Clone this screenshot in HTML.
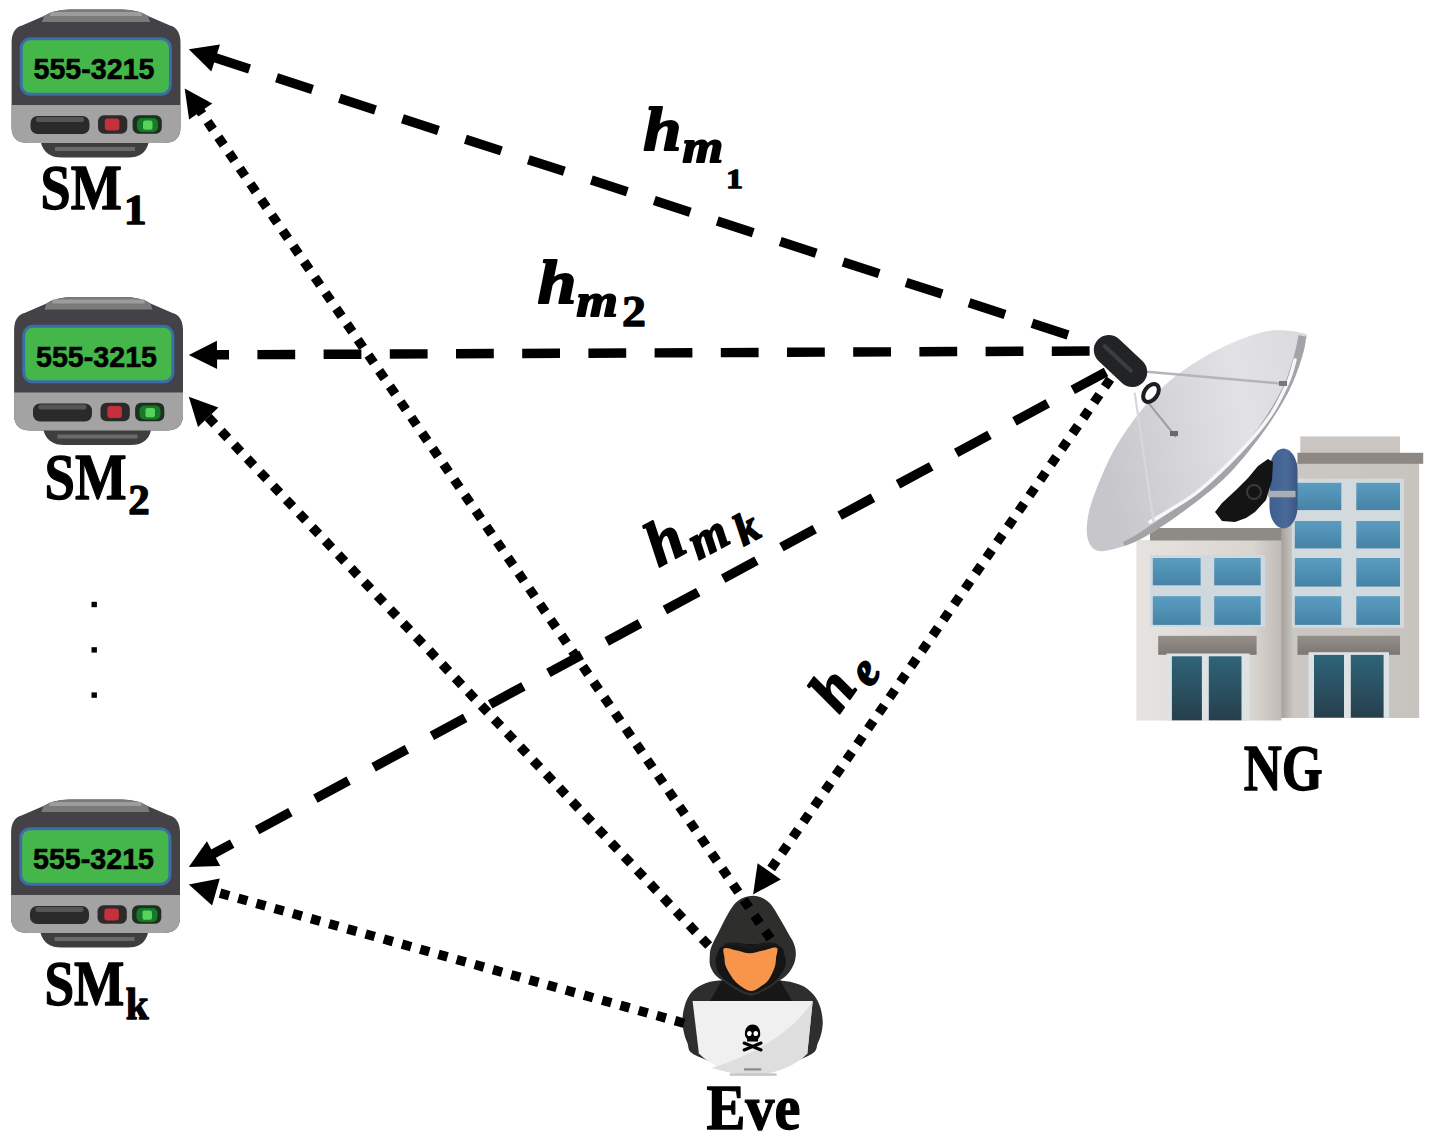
<!DOCTYPE html>
<html><head><meta charset="utf-8"><style>
html,body{margin:0;padding:0;background:#fff;}
svg{display:block;}
</style></head><body>
<svg width="1433" height="1135" viewBox="0 0 1433 1135" font-family="Liberation Serif, serif">
<defs>
<g id="pager">
  <path d="M11.6,42 Q12,28 22,25.5 L44,16 Q54,9.5 70,9.5 L122,9.5 Q138,9.5 148,16 L170,25.5 Q180,28 180.5,42 L180.5,128 Q180,143 164,143 L28,143 Q12,143 11.6,128 Z" fill="#444246"/>
  <path d="M44,16 Q54,9.5 70,9.5 L122,9.5 Q138,9.5 148,16 L150,22 L42,22 Z" fill="#7a7a7a"/>
  <rect x="50" y="12" width="92" height="4" fill="#9c9c9c"/>
  <path d="M11.6,105 L180.5,105 L180.5,128 Q180,143 164,143 L28,143 Q12,143 11.6,128 Z" fill="#a3a3a3"/>
  <path d="M41,143 L148.5,143 Q145,157.6 128,157.6 L62,157.6 Q45,157.6 41,143 Z" fill="#3e3e3e"/>
  <rect x="55" y="147" width="80" height="4" fill="#6a6a6a"/>
  <rect x="21.2" y="38.8" width="149.2" height="55.5" rx="9" fill="#45b74a" stroke="#3b6ea8" stroke-width="3"/>
  <text x="94" y="79" font-family="Liberation Sans, sans-serif" font-weight="bold" font-size="30" text-anchor="middle" textLength="121" lengthAdjust="spacingAndGlyphs" fill="#000" stroke="#000" stroke-width="0.6">555-3215</text>
  <rect x="30.5" y="116" width="59" height="18" rx="7" fill="#2a2a2a"/>
  <rect x="36" y="117" width="48" height="5" rx="2" fill="#555"/>
  <rect x="98" y="115.2" width="29.3" height="18.6" rx="6" fill="#2e2a2a"/>
  <rect x="104.8" y="118.5" width="14.6" height="12" rx="3" fill="#c4303c"/>
  <rect x="132.6" y="115.2" width="29.2" height="18.6" rx="6" fill="#1d2f1f"/>
  <rect x="137" y="118" width="21" height="14" rx="5" fill="#177a2a"/>
  <rect x="143" y="120.5" width="9.5" height="9.3" rx="2" fill="#56d45a"/>
</g>

</defs>
<rect width="1433" height="1135" fill="#fff"/>
<use href="#pager" x="0" y="0"/>
<use href="#pager" x="2.5" y="287.5"/>
<use href="#pager" x="-0.5" y="790"/>
<g id="eve">
  <path d="M724.2,980.3 C731.7,980.0 742.0,981.0 751.0,981.0 C760.0,981.0 770.2,979.7 778.4,980.3 C786.6,980.9 794.3,982.5 800.0,984.8 C805.7,987.0 809.4,990.2 812.7,993.8 C816.0,997.4 818.3,1001.4 820.0,1006.5 C821.7,1011.6 823.0,1018.5 822.7,1024.5 C822.4,1030.5 820.6,1037.3 818.1,1042.6 C815.6,1047.8 818.9,1051.1 808.0,1056.0 C797.1,1060.9 771.5,1072.0 753.0,1072.0 C734.5,1072.0 708.0,1060.9 697.0,1056.0 C686.0,1051.1 689.6,1047.8 687.2,1042.6 C684.8,1037.3 683.1,1030.5 682.6,1024.5 C682.1,1018.5 683.0,1011.9 684.5,1006.5 C686.0,1001.1 688.1,995.9 691.7,992.0 C695.3,988.1 700.7,985.0 706.1,983.0 C711.5,981.0 716.7,980.6 724.2,980.3 Z" fill="#2e2e2c"/>
  <path d="M722,980 C732,988 742,994 751,996 C760,994 770,988 780,980 L792,1001 L710,1001 Z" fill="#171717"/>
  <path d="M753.1,895.8 C756.6,895.8 760.0,896.7 763.0,898.2 C766.0,899.7 768.6,901.6 771.4,905.0 C774.2,908.4 777.0,913.9 779.8,918.6 C782.6,923.3 785.9,929.1 788.2,933.3 C790.6,937.5 792.6,940.1 793.9,943.7 C795.2,947.3 796.1,951.0 795.8,955.0 C795.5,959.0 794.6,963.8 792.0,968.0 C789.4,972.2 786.8,976.5 780.0,980.0 C773.2,983.5 760.7,989.0 751.0,989.0 C741.3,989.0 728.7,983.5 722.0,980.0 C715.3,976.5 713.0,972.2 711.0,968.0 C709.0,963.8 709.7,958.7 709.8,955.0 C709.9,951.3 710.4,949.4 711.8,945.8 C713.2,942.2 715.7,937.8 718.0,933.3 C720.3,928.8 722.8,923.3 725.4,918.6 C728.0,913.9 730.9,908.4 733.7,905.0 C736.5,901.6 738.9,899.7 742.1,898.2 C745.3,896.7 749.6,895.8 753.1,895.8 Z" fill="#2e2e2c"/>
  <path d="M724.0,946.0 C729.5,944.6 741.8,944.0 751.0,944.0 C760.2,944.0 773.4,944.2 779.0,946.0 C784.6,947.8 783.4,951.8 784.5,955.0 C785.6,958.2 786.6,961.2 785.6,965.0 C784.6,968.8 781.4,974.0 778.4,977.6 C775.4,981.2 772.1,984.0 767.6,986.6 C763.1,989.2 756.7,993.0 751.3,993.0 C745.9,993.0 740.1,989.5 735.0,986.6 C729.9,983.7 723.9,979.7 720.6,975.8 C717.4,971.9 716.0,966.9 715.5,963.0 C715.0,959.1 716.5,955.1 717.9,952.3 C719.3,949.5 718.5,947.4 724.0,946.0 Z" fill="#151515"/>
  <path d="M724.2,948.3 C726.3,947.0 732.8,949.7 737.0,950.5 C741.2,951.3 745.2,953.2 749.5,953.2 C753.8,953.2 758.5,951.4 763.0,950.5 C767.5,949.6 774.4,946.5 776.6,947.7 C778.8,949.0 776.3,954.8 776.0,958.0 C775.7,961.2 776.0,963.0 774.8,966.7 C773.5,970.4 771.0,976.6 768.5,980.0 C766.0,983.4 762.9,985.1 760.0,987.0 C757.1,988.9 754.3,991.1 751.3,991.1 C748.3,991.1 744.9,988.9 742.0,987.0 C739.1,985.1 736.7,983.4 734.0,980.0 C731.3,976.6 727.6,970.4 726.0,966.7 C724.4,963.0 724.8,961.1 724.5,958.0 C724.2,954.9 722.1,949.5 724.2,948.3 Z" fill="#f7964a"/>
  <path d="M724.2,946.5 C735,944 744,947 751,950 C758,947 767,944 778,946.5 L778,944 C767,941 758,943 751,946 C744,943 735,941 724.2,944 Z" fill="#1a1a1a"/>
  <path d="M692.6,1001 L812.7,1001 L807.3,1053.4 C795,1066 775,1074 753,1075 C731,1074 711,1066 698.9,1053.4 Z" fill="#f0f0f0"/>
  <path d="M812.7,1001 L807.3,1053.4 C795,1066 775,1074 753,1075 C738,1074.5 724,1071.5 711.6,1067.9 C755,1055 795,1030 812.7,1001 Z" fill="#dedede"/>
  <rect x="744" y="1068.3" width="17.2" height="2.2" fill="#8a8a8a"/>
  <rect x="729.6" y="1073.3" width="47" height="2.5" fill="#c6c6c6"/>
  <g transform="translate(752.6,1036)">
    <path d="M-7.5,0 C-8.5,-7 -5,-11.5 0,-11.5 C5,-11.5 8.5,-7 7.5,0 L5.5,3 L5.5,5.5 L-5.5,5.5 L-5.5,3 Z" fill="#000"/>
    <ellipse cx="-3.2" cy="-2.5" rx="2.3" ry="2.6" fill="#fff"/>
    <ellipse cx="3.2" cy="-2.5" rx="2.3" ry="2.6" fill="#fff"/>
    <path d="M-8.5,7 L8.5,14 M8.5,7 L-8.5,14" stroke="#000" stroke-width="3" stroke-linecap="round"/>
  </g>
</g>

<g stroke="#000" stroke-width="9.45" fill="#000">
<line x1="1068.0" y1="335.0" x2="212.8" y2="57.1" stroke-dasharray="37.8 28.4"/>
<polygon stroke="none" points="188.8,49.3 220.0,44.6 211.3,71.4"/>
<line x1="1089.6" y1="351.0" x2="214.0" y2="354.8" stroke-dasharray="37.8 28.4"/>
<polygon stroke="none" points="188.8,354.9 216.9,340.7 217.1,368.9"/>
<line x1="1106.0" y1="372.0" x2="211.0" y2="855.0" stroke-dasharray="37.8 28.4"/>
<polygon stroke="none" points="188.8,867.0 206.9,841.2 220.3,866.0"/>
<line x1="1110.2" y1="379.1" x2="767.5" y2="873.8" stroke-dasharray="9.45 9.45"/>
<polygon stroke="none" points="753.1,894.5 757.6,863.3 780.8,879.4"/>
<line x1="770.5" y1="938.8" x2="199.0" y2="109.2" stroke-dasharray="9.45 9.45"/>
<polygon stroke="none" points="184.7,88.4 212.3,103.6 189.1,119.6"/>
<line x1="708.7" y1="945.6" x2="206.1" y2="415.1" stroke-dasharray="9.45 9.45"/>
<polygon stroke="none" points="188.8,396.8 218.4,407.6 198.0,427.0"/>
<line x1="684.1" y1="1023.2" x2="213.1" y2="891.2" stroke-dasharray="9.45 9.45"/>
<polygon stroke="none" points="188.8,884.4 219.8,878.4 212.1,905.6"/>
</g>
<g id="ng">
  <defs>
    <linearGradient id="bldL" x1="0" x2="1" y1="0" y2="0">
      <stop offset="0" stop-color="#e6e3e0"/><stop offset="0.8" stop-color="#d9d5d1"/><stop offset="1" stop-color="#bfbab6"/>
    </linearGradient>
    <linearGradient id="bldR" x1="0" x2="1" y1="0" y2="0">
      <stop offset="0" stop-color="#a5a09c"/><stop offset="0.09" stop-color="#cbc7c3"/><stop offset="1" stop-color="#c7c3bf"/>
    </linearGradient>
    <linearGradient id="win" x1="0" x2="0" y1="0" y2="1">
      <stop offset="0" stop-color="#5a9dc1"/><stop offset="1" stop-color="#4683a6"/>
    </linearGradient>
    <linearGradient id="door" x1="0" x2="0" y1="0" y2="1">
      <stop offset="0" stop-color="#2f6479"/><stop offset="1" stop-color="#263f4c"/>
    </linearGradient>
    <linearGradient id="awn" x1="0" x2="0" y1="0" y2="1">
      <stop offset="0" stop-color="#958f8b"/><stop offset="1" stop-color="#7d7773"/>
    </linearGradient>
    <linearGradient id="mountG" x1="0" x2="1" y1="0" y2="0">
      <stop offset="0" stop-color="#3e5f90"/><stop offset="0.6" stop-color="#4a6a98"/><stop offset="1" stop-color="#3a5480"/>
    </linearGradient>
    <linearGradient id="dishG" x1="0" y1="0.2" x2="1" y2="0"><stop offset="0" stop-color="#c6c6cb"/><stop offset="0.35" stop-color="#d5d5da"/><stop offset="0.65" stop-color="#e2e2e6"/><stop offset="1" stop-color="#dadade"/></linearGradient>
    <clipPath id="dishClip"><path d="M1303.5,333.2 C1297.2,331.7 1281.4,328.8 1268.2,331.0 C1255.0,333.2 1237.9,340.1 1224.2,346.4 C1210.5,352.6 1197.2,360.8 1186.0,368.5 C1174.8,376.2 1165.8,383.9 1157.0,392.7 C1148.2,401.4 1140.3,411.1 1133.0,421.0 C1125.7,430.9 1118.8,441.3 1113.0,452.0 C1107.2,462.7 1102.1,474.7 1098.0,485.0 C1093.9,495.3 1090.2,505.2 1088.5,514.0 C1086.8,522.8 1086.2,532.0 1087.5,538.0 C1088.8,544.0 1092.0,548.4 1096.4,550.2 C1100.8,552.0 1106.3,551.0 1114.0,549.0 C1121.7,547.0 1131.7,543.9 1142.7,538.0 C1153.7,532.1 1166.4,523.7 1180.0,513.8 C1193.6,503.9 1210.6,491.8 1224.2,478.6 C1237.8,465.4 1251.0,448.8 1261.6,434.5 C1272.2,420.2 1281.4,405.2 1288.0,392.7 C1294.6,380.2 1298.3,368.4 1301.3,359.6 C1304.2,350.8 1305.3,344.2 1305.7,339.8 C1306.1,335.4 1309.8,334.7 1303.5,333.2 Z"/></clipPath>
  </defs>
  <!-- left building -->
  <rect x="1136.4" y="540" width="145" height="180.5" fill="url(#bldL)"/>
  <rect x="1150" y="528" width="132" height="12.5" fill="#8e8a86"/>
  <rect x="1150" y="555" width="115" height="72" fill="#cfd8dd"/>
  <rect x="1152.8" y="558" width="47.8" height="27.3" fill="url(#win)"/>
  <rect x="1214.2" y="558" width="46.5" height="27.3" fill="url(#win)"/>
  <rect x="1152.8" y="596.2" width="47.8" height="28.7" fill="url(#win)"/>
  <rect x="1214.2" y="596.2" width="46.5" height="28.7" fill="url(#win)"/>
  <rect x="1158.2" y="635.8" width="98.4" height="19" fill="url(#awn)"/>
  <rect x="1166.4" y="653.5" width="83.3" height="67" fill="#dde2e5"/>
  <rect x="1171.9" y="656.3" width="30" height="64" fill="url(#door)"/>
  <rect x="1208.8" y="656.3" width="32.7" height="64" fill="url(#door)"/>
  <!-- right building -->
  <rect x="1281.2" y="463" width="138" height="255" fill="url(#bldR)"/>
  <rect x="1300.3" y="436.4" width="99.7" height="17.7" fill="#cac5c1"/>
  <rect x="1297.5" y="452.8" width="125.7" height="11" fill="#8d8884"/>
  <rect x="1292" y="478.7" width="112" height="149" fill="#d2dade"/>
  <rect x="1294.8" y="482.8" width="46.5" height="27.3" fill="url(#win)"/>
  <rect x="1356.3" y="482.8" width="43.7" height="27.3" fill="url(#win)"/>
  <rect x="1294.8" y="521" width="46.5" height="27.4" fill="url(#win)"/>
  <rect x="1356.3" y="521" width="43.7" height="27.4" fill="url(#win)"/>
  <rect x="1294.8" y="558" width="46.5" height="28.6" fill="url(#win)"/>
  <rect x="1356.3" y="558" width="43.7" height="28.6" fill="url(#win)"/>
  <rect x="1294.8" y="596.2" width="46.5" height="28.7" fill="url(#win)"/>
  <rect x="1356.3" y="596.2" width="43.7" height="28.7" fill="url(#win)"/>
  <rect x="1297.5" y="635.8" width="102.5" height="19" fill="url(#awn)"/>
  <rect x="1308.5" y="652.2" width="80.5" height="65.5" fill="#dde2e5"/>
  <rect x="1314" y="654.9" width="30" height="62.8" fill="url(#door)"/>
  <rect x="1350.8" y="654.9" width="32.8" height="62.8" fill="url(#door)"/>
  <!-- mount -->
  <rect x="1269.5" y="448.5" width="28" height="80" rx="14" ry="22" fill="url(#mountG)"/>
  <rect x="1268" y="490.8" width="27.5" height="6.5" fill="#a9aeb4"/>
  <path d="M1215,512 L1222,503 L1236,490 L1248,478 L1258,466 L1268,459 L1273,462 L1272,480 L1266,500 L1255,512 L1246,518 L1235,522 L1222,521 Z" fill="#141414"/>
  <circle cx="1254" cy="492" r="7" fill="none" stroke="#3a3a3a" stroke-width="2"/>
  <!-- dish -->
  <path d="M1303.5,333.2 C1297.2,331.7 1281.4,328.8 1268.2,331.0 C1255.0,333.2 1237.9,340.1 1224.2,346.4 C1210.5,352.6 1197.2,360.8 1186.0,368.5 C1174.8,376.2 1165.8,383.9 1157.0,392.7 C1148.2,401.4 1140.3,411.1 1133.0,421.0 C1125.7,430.9 1118.8,441.3 1113.0,452.0 C1107.2,462.7 1102.1,474.7 1098.0,485.0 C1093.9,495.3 1090.2,505.2 1088.5,514.0 C1086.8,522.8 1086.2,532.0 1087.5,538.0 C1088.8,544.0 1092.0,548.4 1096.4,550.2 C1100.8,552.0 1106.3,551.0 1114.0,549.0 C1121.7,547.0 1131.7,543.9 1142.7,538.0 C1153.7,532.1 1166.4,523.7 1180.0,513.8 C1193.6,503.9 1210.6,491.8 1224.2,478.6 C1237.8,465.4 1251.0,448.8 1261.6,434.5 C1272.2,420.2 1281.4,405.2 1288.0,392.7 C1294.6,380.2 1298.3,368.4 1301.3,359.6 C1304.2,350.8 1305.3,344.2 1305.7,339.8 C1306.1,335.4 1309.8,334.7 1303.5,333.2 Z" fill="url(#dishG)"/>
  <path d="M1125.0,546.0 C1128.0,544.3 1133.5,542.0 1142.7,536.0 C1151.9,530.0 1166.4,520.2 1180.0,510.0 C1193.6,499.8 1210.6,488.2 1224.2,475.0 C1237.8,461.8 1251.1,445.3 1261.6,431.0 C1272.1,416.7 1280.9,401.2 1287.0,389.0 C1293.1,376.8 1295.3,366.8 1298.0,358.0 C1300.7,349.2 1302.2,339.7 1303.0,336.0 " fill="none" stroke="#a3a3a8" stroke-width="9" clip-path="url(#dishClip)"/>
  <path d="M1150.0,522.0 C1153.3,520.0 1161.7,515.3 1170.0,510.0 C1178.3,504.7 1188.3,499.7 1200.0,490.0 C1211.7,480.3 1228.3,464.3 1240.0,452.0 C1251.7,439.7 1262.0,427.7 1270.0,416.0 C1278.0,404.3 1283.8,391.3 1288.0,382.0 C1292.2,372.7 1293.8,363.7 1295.0,360.0 " fill="none" stroke="#f7f7f9" stroke-width="3.5" stroke-linecap="round" clip-path="url(#dishClip)"/>
  <!-- struts -->
  <line x1="1147" y1="371.8" x2="1284.8" y2="383.9" stroke="#b5b5b9" stroke-width="2.5"/>
  <line x1="1134.7" y1="392.6" x2="1153.7" y2="522.6" stroke="#d8d8dc" stroke-width="2.2"/>
  <line x1="1149" y1="403.7" x2="1176" y2="437" stroke="#9d9da2" stroke-width="2"/>
  <rect x="1170" y="431" width="8" height="5" fill="#6a6a6e"/>
  <rect x="1279" y="381" width="8" height="5" fill="#77777b"/>
  <!-- feed horn -->
  <g transform="translate(1120.5,361) rotate(43)">
    <rect x="-31" y="-15" width="62" height="30" rx="15" fill="#222326"/>
    <rect x="-24" y="-2" width="40" height="4" rx="2" fill="#3a3d42"/>
  </g>
  <ellipse cx="1151" cy="393" rx="10" ry="6.5" transform="rotate(-55 1151 393)" fill="none" stroke="#1e1e1e" stroke-width="4"/>
</g>

<g fill="#000" font-family="Liberation Serif, serif" stroke-linejoin="round">
<text id="t_sm1" x="40.60" y="209.20" font-size="63.83" textLength="81.22" lengthAdjust="spacingAndGlyphs" font-weight="bold" stroke="#000" stroke-width="1.3">SM</text>
<text id="t_s1" x="123.80" y="224.20" font-size="43.07" textLength="22.94" lengthAdjust="spacingAndGlyphs" font-weight="bold" stroke="#000" stroke-width="1.3">1</text>
<text id="t_sm2" x="44.60" y="499.40" font-size="65.59" textLength="82.05" lengthAdjust="spacingAndGlyphs" font-weight="bold" stroke="#000" stroke-width="1.3">SM</text>
<text id="t_s2" x="128.20" y="514.40" font-size="43.07" textLength="21.49" lengthAdjust="spacingAndGlyphs" font-weight="bold" stroke="#000" stroke-width="1.3">2</text>
<text id="t_smk" x="44.40" y="1005.40" font-size="63.83" textLength="80.02" lengthAdjust="spacingAndGlyphs" font-weight="bold" stroke="#000" stroke-width="1.3">SM</text>
<text id="t_sk" x="125.80" y="1019.40" font-size="43.33" textLength="22.85" lengthAdjust="spacingAndGlyphs" font-weight="bold" stroke="#000" stroke-width="1.3">k</text>
<text id="t_ng" x="1243.80" y="789.60" font-size="64.99" textLength="79.05" lengthAdjust="spacingAndGlyphs" font-weight="bold" stroke="#000" stroke-width="1.3">NG</text>
<text id="t_eve" x="706.40" y="1129.40" font-size="63.87" textLength="94.07" lengthAdjust="spacingAndGlyphs" font-weight="bold" stroke="#000" stroke-width="1.3">Eve</text>
<text id="m1h" x="643.20" y="150.00" font-size="61.40" textLength="38.27" lengthAdjust="spacingAndGlyphs" font-weight="bold" font-style="italic" stroke="#000" stroke-width="1.8">h</text>
<text id="m1m" x="682.60" y="162.00" font-size="46.91" textLength="40.67" lengthAdjust="spacingAndGlyphs" font-weight="bold" font-style="italic" stroke="#000" stroke-width="1.8">m</text>
<text id="m11" x="726.00" y="188.20" font-size="28.36" textLength="17.01" lengthAdjust="spacingAndGlyphs" font-weight="bold" stroke="#000" stroke-width="1.3">1</text>
<text id="m2h" x="537.60" y="303.00" font-size="61.40" textLength="38.98" lengthAdjust="spacingAndGlyphs" font-weight="bold" font-style="italic" stroke="#000" stroke-width="1.8">h</text>
<text id="m2m" x="576.60" y="315.60" font-size="46.91" textLength="41.32" lengthAdjust="spacingAndGlyphs" font-weight="bold" font-style="italic" stroke="#000" stroke-width="1.8">m</text>
<text id="m22" x="622.00" y="325.80" font-size="43.73" textLength="23.91" lengthAdjust="spacingAndGlyphs" font-weight="bold" stroke="#000" stroke-width="1.3">2</text>

<text id="mkh" transform="translate(658.50,567.60) rotate(-28.3)" font-size="63.05" font-weight="bold" font-style="italic" stroke="#000" stroke-width="1.8">h</text>
<text id="mkm" transform="translate(698.40,560.30) rotate(-28.3)" font-size="49.42" font-weight="bold" font-style="italic" stroke="#000" stroke-width="1.8">m</text>
<text id="mkk" transform="translate(743.50,546.30) rotate(-28.3)" font-size="44.41" font-weight="bold" font-style="italic" stroke="#000" stroke-width="1.8">k</text>
<text id="meh" transform="translate(839.00,714.80) rotate(-55)" font-size="60.73" font-weight="bold" font-style="italic" stroke="#000" stroke-width="1.8">h</text>
<text id="mee" transform="translate(870.60,688.40) rotate(-55)" font-size="46.98" font-weight="bold" font-style="italic" stroke="#000" stroke-width="1.8">e</text>

</g>
<rect x="91.5" y="601.8" width="5.4" height="5.4" fill="#000"/>
<rect x="91.5" y="647.2" width="5.4" height="5.4" fill="#000"/>
<rect x="91.5" y="692.4" width="5.4" height="5.4" fill="#000"/>

</svg>
</body></html>
